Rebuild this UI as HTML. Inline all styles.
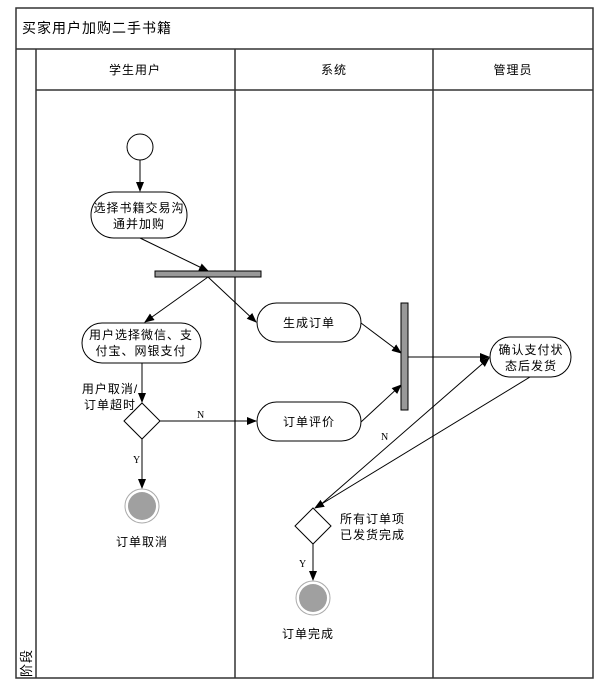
<!DOCTYPE html>
<html><head><meta charset="utf-8"><style>
html,body{margin:0;padding:0;background:#fff;}
svg text{font-family:"Liberation Sans","Noto Sans CJK SC",sans-serif;font-size:12px;fill:#000;letter-spacing:1px;}
</style></head><body>
<svg width="600" height="686" viewBox="0 0 600 686" xmlns="http://www.w3.org/2000/svg">
<defs>
<marker id="a" markerWidth="10" markerHeight="10" refX="9" refY="5" orient="auto" markerUnits="userSpaceOnUse">
<path d="M0,1 L10,5 L0,9 z" fill="#000"/></marker>
</defs>
<g stroke="#333" stroke-width="1.5" fill="none">
<rect x="16" y="8" width="577" height="670"/>
<line x1="16" y1="49" x2="593" y2="49"/>
<line x1="36" y1="49" x2="36" y2="678"/>
<line x1="36" y1="90" x2="593" y2="90"/>
<line x1="235" y1="49" x2="235" y2="678"/>
<line x1="433" y1="49" x2="433" y2="678"/>
</g>
<text x="22" y="33" style="font-size:14px">买家用户加购二手书籍</text>
<text x="135" y="74" text-anchor="middle">学生用户</text>
<text x="334" y="74" text-anchor="middle">系统</text>
<text x="513" y="74" text-anchor="middle">管理员</text>
<text transform="translate(31,677) rotate(-90)" style="font-size:13px">阶段</text>

<g stroke="#000" stroke-width="1" fill="none">
<circle cx="140" cy="147" r="13" fill="#fff"/>
<line x1="140" y1="160" x2="140" y2="191" marker-end="url(#a)"/>
<rect x="91" y="192" width="96" height="46" rx="23" fill="#fff"/>
<line x1="140" y1="238" x2="208" y2="271" marker-end="url(#a)"/>
<rect x="155" y="271" width="106" height="6" fill="#999"/>
<line x1="208" y1="277" x2="145" y2="322" marker-end="url(#a)"/>
<line x1="208" y1="277" x2="256" y2="322" marker-end="url(#a)"/>
<rect x="82" y="323" width="119" height="40" rx="20" fill="#fff"/>
<line x1="142" y1="363" x2="142" y2="402" marker-end="url(#a)"/>
<path d="M142,403 L160,421 L142,439 L124,421 Z" fill="#fff"/>
<line x1="160" y1="421" x2="256" y2="421" marker-end="url(#a)"/>
<line x1="142" y1="439" x2="142" y2="488" marker-end="url(#a)"/>
<circle cx="142" cy="506" r="17" stroke="#aaa" fill="#fff"/>
<circle cx="142" cy="506" r="14" stroke="none" fill="#a0a0a0"/>
<rect x="257" y="303" width="104" height="39" rx="19.5" fill="#fff"/>
<rect x="257" y="402" width="104" height="39" rx="19.5" fill="#fff"/>
<line x1="361" y1="323" x2="401" y2="353" marker-end="url(#a)"/>
<line x1="361" y1="422" x2="401" y2="385" marker-end="url(#a)"/>
<rect x="401" y="303" width="7" height="107" fill="#999"/>
<line x1="408" y1="357" x2="489" y2="357" marker-end="url(#a)"/>
<rect x="490" y="337" width="81" height="40" rx="20" fill="#fff"/>
<line x1="530" y1="377" x2="315" y2="508" marker-end="url(#a)"/>
<line x1="318" y1="507" x2="489" y2="358" marker-end="url(#a)"/>
<path d="M313,508 L331,526 L313,544 L295,526 Z" fill="#fff"/>
<line x1="313" y1="544" x2="313" y2="580" marker-end="url(#a)"/>
<circle cx="313" cy="598" r="17" stroke="#aaa" fill="#fff"/>
<circle cx="313" cy="598" r="14" stroke="none" fill="#a0a0a0"/>
</g>
<text x="139" y="212" text-anchor="middle">选择书籍交易沟</text>
<text x="139" y="228" text-anchor="middle">通并加购</text>
<text x="141" y="339" text-anchor="middle">用户选择微信、支</text>
<text x="141" y="355" text-anchor="middle">付宝、网银支付</text>
<text x="110" y="393" text-anchor="middle">用户取消/</text>
<text x="110" y="409" text-anchor="middle">订单超时</text>
<text x="197" y="418" style="font-size:10px;font-family:'Liberation Serif',serif">N</text>
<text x="133" y="463" style="font-size:10px;font-family:'Liberation Serif',serif">Y</text>
<text x="142" y="546" text-anchor="middle">订单取消</text>
<text x="309" y="327" text-anchor="middle">生成订单</text>
<text x="309" y="426" text-anchor="middle">订单评价</text>
<text x="531" y="354" text-anchor="middle">确认支付状</text>
<text x="531" y="370" text-anchor="middle">态后发货</text>
<text x="381" y="440" style="font-size:10px;font-family:'Liberation Serif',serif">N</text>
<text x="340" y="523">所有订单项</text>
<text x="340" y="539">已发货完成</text>
<text x="299" y="567" style="font-size:10px;font-family:'Liberation Serif',serif">Y</text>
<text x="308" y="638" text-anchor="middle">订单完成</text>
</svg>
</body></html>
